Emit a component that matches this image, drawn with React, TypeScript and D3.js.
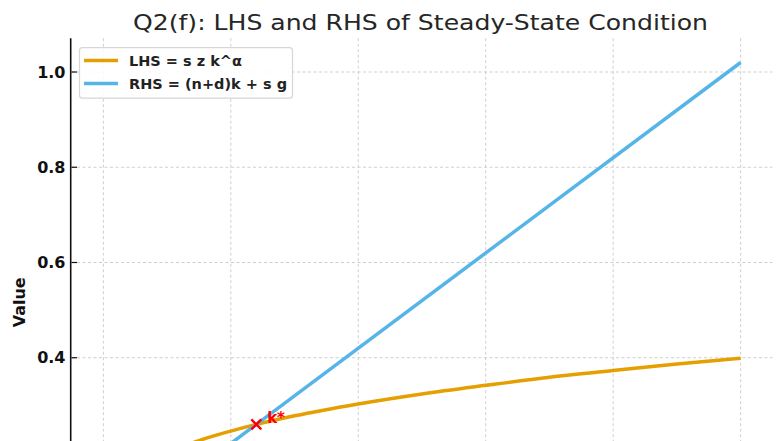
import { useEffect, useRef } from 'react';
import * as d3 from 'd3';

// capital stock grid (k) and the two sides of the steady-state equation
const kValues = [0, 0.05, 0.1, 0.25, 0.5, 1, 1.5, 2, 3, 4, 5, 6, 7, 8, 9, 10];
const lhsValues = [0, 0.081, 0.1, 0.132, 0.162, 0.2, 0.226, 0.246, 0.278, 0.303, 0.324, 0.342, 0.359, 0.373, 0.387, 0.399];
const rhsK = [0, 10];
const rhsValues = [0.02, 1.02];
const kStar = 2.4;
const kStarValue = 0.26;
const xTicks = [0, 2, 4, 6, 8, 10];
const yTicks = [0.4, 0.6, 0.8, 1.0];
const legendLabels = ['LHS = s z k^\u03b1', 'RHS = (n+d)k + s g'];
const colors = ['#E69F00', '#56B4E9'];

const FONT = '"DejaVu Sans", sans-serif';

const SteadyStateChart = () => {
  const chartRef = useRef<SVGSVGElement>(null);

  useEffect(() => {
    if (!chartRef.current) return;
    const svg = d3.select(chartRef.current);
    svg.selectAll('*').remove();

    const left = 71.5;
    const right = 772.5;
    const top = 38.2;
    const bottom = 572.5;

    const x = d3.scaleLinear().domain([-0.5, 10.5]).range([left, right]);
    const y = d3.scaleLinear().domain([-0.051, 1.071]).range([bottom, top]);

    // grid
    const grid = svg.append('g').attr('stroke', '#cfcfcf').attr('stroke-width', 1).attr('stroke-dasharray', '3,2.5');
    grid.selectAll('.vgrid')
      .data(xTicks)
      .enter()
      .append('line')
      .attr('x1', d => x(d))
      .attr('x2', d => x(d))
      .attr('y1', top)
      .attr('y2', bottom);
    grid.selectAll('.hgrid')
      .data(yTicks)
      .enter()
      .append('line')
      .attr('x1', left)
      .attr('x2', right)
      .attr('y1', d => y(d))
      .attr('y2', d => y(d));

    // lines
    const lhs = kValues.map((k, i) => [k, lhsValues[i]] as [number, number]);
    const rhs = rhsK.map((k, i) => [k, rhsValues[i]] as [number, number]);
    const line = d3.line<[number, number]>().x(d => x(d[0])).y(d => y(d[1])).curve(d3.curveMonotoneX);
    svg.append('path')
      .datum(lhs)
      .attr('d', line)
      .attr('fill', 'none')
      .attr('stroke', colors[0])
      .attr('stroke-width', 3.5);
    svg.append('path')
      .datum(rhs)
      .attr('d', line)
      .attr('fill', 'none')
      .attr('stroke', colors[1])
      .attr('stroke-width', 3.5);

    // k* marker
    const mx = x(kStar);
    const my = y(kStarValue);
    const s = 5;
    svg.append('path')
      .attr('d', `M${mx - s},${my - s}L${mx + s},${my + s}M${mx - s},${my + s}L${mx + s},${my - s}`)
      .attr('stroke', 'red')
      .attr('stroke-width', 2.4);
    svg.append('text')
      .attr('x', x(kStar + 0.17))
      .attr('y', y(kStarValue + 0.003))
      .attr('fill', 'red')
      .style('font-family', FONT)
      .style('font-weight', 'bold')
      .style('font-size', '15px')
      .text('k*');

    // left spine + ticks
    svg.append('line')
      .attr('x1', left - 0.8)
      .attr('x2', left - 0.8)
      .attr('y1', top)
      .attr('y2', bottom)
      .attr('stroke', '#111')
      .attr('stroke-width', 1.6);
    const yt = svg.append('g');
    yt.selectAll('line')
      .data(yTicks)
      .enter()
      .append('line')
      .attr('x1', left)
      .attr('x2', left + 5.5)
      .attr('y1', d => y(d))
      .attr('y2', d => y(d))
      .attr('stroke', '#111')
      .attr('stroke-width', 1.2);
    yt.selectAll('text')
      .data(yTicks)
      .enter()
      .append('text')
      .attr('x', left - 6)
      .attr('y', d => y(d))
      .attr('dy', '0.36em')
      .attr('text-anchor', 'end')
      .attr('fill', '#111')
      .style('font-family', FONT)
      .style('font-weight', 'bold')
      .style('font-size', '16px')
      .text(d => d3.format('.1f')(d));

    // y label
    svg.append('text')
      .attr('transform', `translate(25,${(top + bottom) / 2 - 3}) rotate(-90)`)
      .attr('text-anchor', 'middle')
      .attr('fill', '#111')
      .style('font-family', FONT)
      .style('font-weight', 'bold')
      .style('font-size', '16px')
      .text('Value');

    // title
    svg.append('text')
      .attr('x', 420.5)
      .attr('y', 29.5)
      .attr('text-anchor', 'middle')
      .attr('fill', '#262626')
      .attr('textLength', 575)
      .attr('lengthAdjust', 'spacingAndGlyphs')
      .style('font-family', FONT)
      .style('font-size', '21px')
      .text('Q2(f): LHS and RHS of Steady-State Condition');

    // legend
    const lg = svg.append('g');
    lg.append('rect')
      .attr('x', 79.5)
      .attr('y', 47.7)
      .attr('width', 213)
      .attr('height', 50.5)
      .attr('rx', 3)
      .attr('fill', 'white')
      .attr('fill-opacity', 0.85)
      .attr('stroke', '#d6d6d6')
      .attr('stroke-width', 1.2);
    legendLabels.forEach((label, i) => {
      const ly = 60.5 + i * 23;
      lg.append('line')
        .attr('x1', 84)
        .attr('x2', 118)
        .attr('y1', ly)
        .attr('y2', ly)
        .attr('stroke', colors[i])
        .attr('stroke-width', 3.5);
      lg.append('text')
        .attr('x', 129)
        .attr('y', ly + 5.2)
        .attr('fill', '#222')
        .style('font-family', FONT)
        .style('font-weight', 'bold')
        .style('font-size', '14.5px')
        .text(label);
    });
  }, []);

  return (
    <div style={{ position: 'fixed', top: 0, left: 0, width: 784, height: 441, overflow: 'hidden', background: 'white' }}>
      <svg ref={chartRef} width={784} height={620} />
    </div>
  );
};

export default function App() {
  return <SteadyStateChart />;
}
